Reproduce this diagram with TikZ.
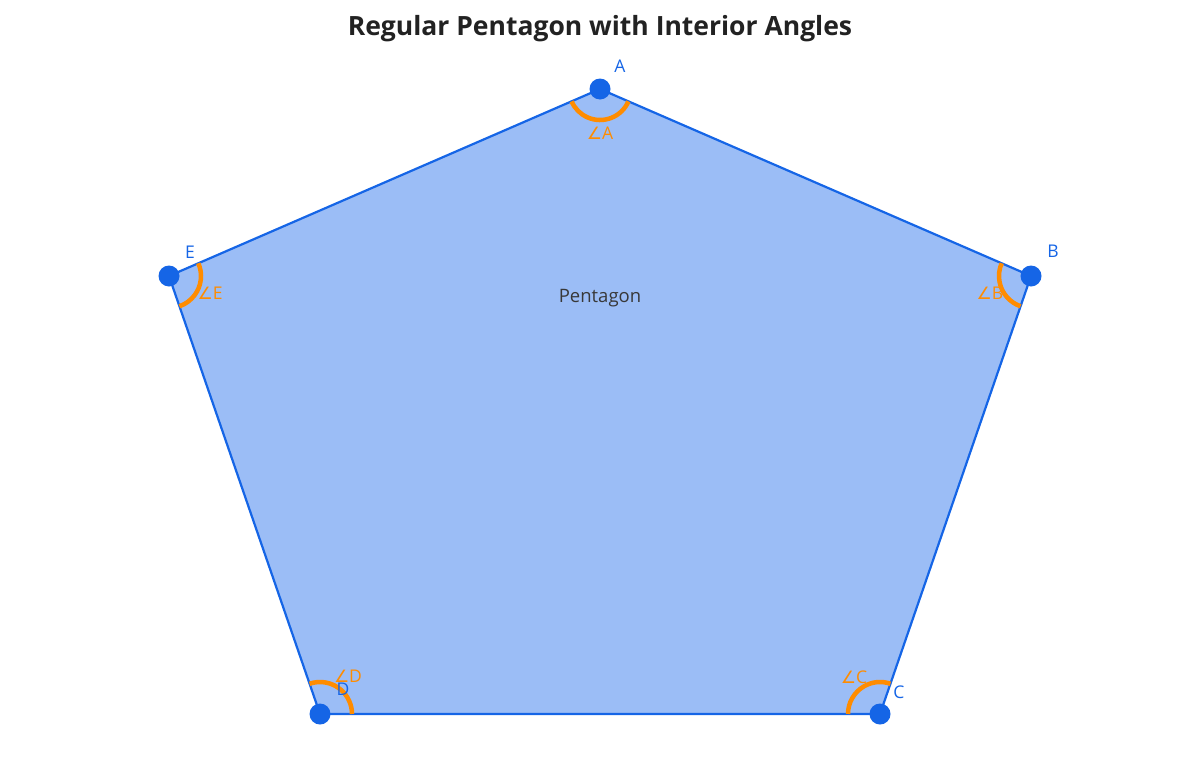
\documentclass[tikz,border=0pt]{standalone}
\usepackage{fontspec}
\usetikzlibrary{calc}
\setmainfont{Open Sans}
\newfontfamily\symf{DejaVu Sans}
\definecolor{pblue}{HTML}{1565E6}
\definecolor{pfill}{HTML}{9BBDF6}
\definecolor{porange}{HTML}{FF8C00}
\definecolor{ptitle}{HTML}{222222}
\begin{document}
\begin{tikzpicture}[x=1pt,y=-1pt,
  vlabel/.style={text=pblue,font=\fontsize{17.5}{20}\selectfont,inner sep=0pt},
  alabel/.style={text=porange,font=\fontsize{17.5}{20}\selectfont,inner sep=0pt},
  anglearc/.style={draw=porange,line width=4.5pt},
  vdot/.style={circle,fill=pblue,minimum size=21pt,inner sep=0pt}]
\useasboundingbox (0,0) rectangle (1200,763);
\coordinate (A) at (600,89);
\coordinate (B) at (1031,276);
\coordinate (C) at (880,714);
\coordinate (D) at (320,714);
\coordinate (E) at (169,276);
\fill[pfill] (A) -- (B) -- (C) -- (D) -- (E) -- cycle;
\draw[pblue,line width=2.2pt,line join=round] (A) -- (B) -- (C) -- (D) -- (E) -- cycle;
% angle arcs
\draw[anglearc] ($(A)+(23.5:31)$) arc[start angle=23.5,end angle=156.5,radius=31];
\draw[anglearc] ($(B)+(109:32)$) arc[start angle=109,end angle=203.5,radius=32];
\draw[anglearc] ($(C)+(180:32)$) arc[start angle=180,end angle=289,radius=32];
\draw[anglearc] ($(D)+(251:32)$) arc[start angle=251,end angle=360,radius=32];
\draw[anglearc] ($(E)+(-23.5:32)$) arc[start angle=-23.5,end angle=71,radius=32];
% dots
\foreach \p in {A,B,C,D,E} \node[vdot] (d\p) at (\p) {};
% labels
\node[vlabel] (lA) at (620,66) {A};
\node[vlabel] (lB) at (1053,251) {B};
\node[vlabel] (lC) at (899,692) {C};
\node[alabel] (aA) at (600,133) {{\symf\fontsize{17}{18}\selectfont ∠}A};
\node[alabel] (aB) at (990,293) {{\symf\fontsize{17}{18}\selectfont ∠}B};
\node[alabel] (aC) at (854,677) {{\symf\fontsize{17}{18}\selectfont ∠}C};
\node[alabel] (aD) at (348,676) {{\symf\fontsize{17}{18}\selectfont ∠}D};
\node[alabel] (aE) at (210,293) {{\symf\fontsize{17}{18}\selectfont ∠}E};
\node[vlabel] (lD) at (343,689) {D};
\node[vlabel] (lE) at (190,252) {E};
\node[text=ptitle!90,font=\fontsize{18.5}{20}\selectfont,inner sep=0pt] (pent) at (600,298) {Pentagon};
\node[text=ptitle,font=\bfseries\fontsize{26.5}{30}\selectfont,inner sep=0pt] (title) at (600,29) {Regular Pentagon with Interior Angles};
\end{tikzpicture}
\end{document}
